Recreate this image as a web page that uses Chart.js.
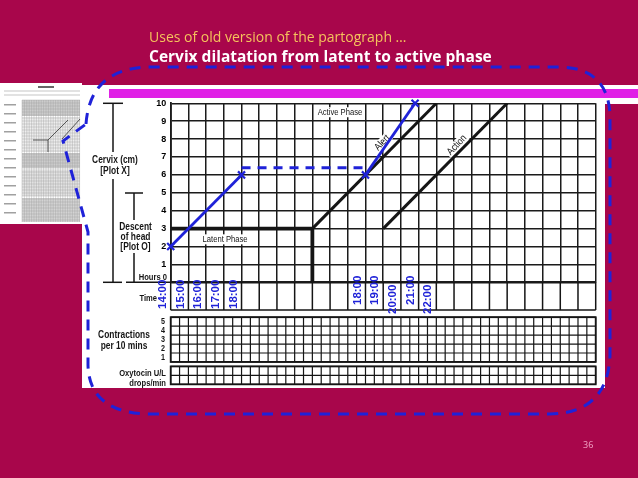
<!DOCTYPE html>
<html lang="en">
<head>
    <meta charset="UTF-8">
    <title>partograph</title>
    <style>
        body {
            margin: 0;
            width: 638px;
            height: 478px;
            overflow: hidden;
            position: relative;
            background: #a8064b;
            font-family: 'Open Sans', sans-serif;
        }
        #canvas {
            position: absolute;
            left: 0;
            top: 0;
        }
        .sub {
            position: absolute;
            left: 149px;
            top: 27px;
            color: #f5c35c;
            font-size: 14px;
            white-space: nowrap;
        }
        .title {
            position: absolute;
            left: 149px;
            top: 45px;
            color: #fff;
            font-size: 15.5px;
            font-weight: bold;
            white-space: nowrap;
        }
        .page {
            position: absolute;
            left: 583px;
            top: 438px;
            color: #f2a4c6;
            font-size: 9px;
        }
    </style>
</head>
<body>
    <canvas id="canvas" width="638" height="478"></canvas>
    <div class="sub">Uses of old version of the partograph …</div>
    <div class="title">Cervix dilatation from latent to active phase</div>
    <div class="page">36</div>

    <script src="https://cdn.jsdelivr.net/npm/chart.js@4.4.1/dist/chart.umd.min.js"></script>
    <script>
    // printed lines of the partograph (hours, cm)
    const latentHours = [0, 8, 8];
    const latentCm = [3, 3, 0];
    const alertHours = [8, 15];
    const alertCm = [3, 10];
    const actionHours = [12, 19];
    const actionCm = [3, 10];

    // blue hand plot
    const plotHours1 = [0, 4];
    const plotCm1 = [2, 6];
    const transferHours = [4, 10.9];
    const transferCm = [6.4, 6.4];
    const plotHours2 = [11, 13.8];
    const plotCm2 = [6, 10];

    // hand written clock times under the hours line
    const timeHours = [0, 1, 2, 3, 4, 11, 12, 13, 14, 15];
    const timeLabels = ['14:00', '15:00', '16:00', '17:00', '18:00', '18:00', '19:00', '20:00', '21:00', '22:00'];
    const contractionTicks = ['5', '4', '3', '2', '1'];

    const blue = '#1f22d8';
    const ink = '#151515';
    const sans = "'Liberation Sans', Arial, sans-serif";

    function pts(xs, ys) {
        return xs.map(function (x, i) { return { x: x, y: ys[i] }; });
    }

    function line(c, x1, y1, x2, y2) {
        c.beginPath();
        c.moveTo(x1, y1);
        c.lineTo(x2, y2);
        c.stroke();
    }

    // condensed look of the printed form: squeeze text horizontally
    function narrow(c, text, x, y, align, font) {
        c.save();
        c.font = font;
        c.textAlign = align;
        c.textBaseline = 'middle';
        c.translate(x, y);
        c.scale(0.8, 1);
        c.fillText(text, 0, 0);
        c.restore();
    }

    function tag(c, text, x, y, angle, size) {
        c.save();
        c.translate(x, y);
        c.rotate(angle);
        c.scale(0.85, 1);
        c.font = size + 'px ' + sans;
        const w = c.measureText(text).width;
        c.fillStyle = '#fff';
        c.fillRect(-w / 2 - 2, -5, w + 4, 10);
        c.fillStyle = ink;
        c.textAlign = 'center';
        c.textBaseline = 'middle';
        c.fillText(text, 0, 0);
        c.restore();
    }

    function gridBlock(c, xs, top, rows, rowH) {
        const left = xs.getPixelForValue(0), right = xs.getPixelForValue(24);
        c.lineWidth = 1.2;
        for (let h = 0; h <= 48; h++) {
            const px = xs.getPixelForValue(h / 2);
            line(c, px, top, px, top + rows * rowH);
        }
        for (let r = 0; r <= rows; r++) {
            line(c, left, top + r * rowH, right, top + r * rowH);
        }
        c.lineWidth = 1.8;
        c.strokeRect(left, top, right - left, rows * rowH);
    }

    function drawThumb(c) {
        c.fillStyle = '#fff';
        c.fillRect(0, 83, 82, 141);
        c.fillStyle = '#666';
        c.fillRect(38, 86, 16, 2);
        c.strokeStyle = '#8a8a8a';
        c.lineWidth = 0.5;
        line(c, 4, 91, 80, 91);
        line(c, 4, 95, 80, 95);
        const bands = [[100, 116, '#cdcdcd'], [117, 152, '#efefef'], [153, 168, '#cdcdcd'], [170, 196, '#e4e4e4'], [198, 222, '#d4d4d4']];
        bands.forEach(function (b) {
            c.fillStyle = b[2];
            c.fillRect(22, b[0], 58, b[1] - b[0]);
        });
        c.strokeStyle = '#9c9c9c';
        c.lineWidth = 0.4;
        for (let x = 22; x <= 80; x += 2.4) line(c, x, 100, x, 222);
        for (let y = 100; y <= 222; y += 3) line(c, 22, y, 80, y);
        c.strokeStyle = '#333';
        c.lineWidth = 0.8;
        line(c, 33, 140, 48, 140);
        line(c, 48, 140, 68, 120);
        line(c, 62, 139, 80, 119);
        line(c, 48, 140, 48, 152);
        c.fillStyle = '#a0a0a0';
        for (let y = 104; y < 220; y += 9) c.fillRect(4, y, 12, 1.5);
    }

    const slide = {
        id: 'slide',
        beforeDraw: function (chart) {
            const c = chart.ctx;
            c.save();
            c.fillStyle = '#fff';
            c.fillRect(82, 85, 523, 303);
            c.fillRect(82, 85, 556, 4);
            c.fillRect(605, 98, 33, 6);
            c.fillStyle = '#e020e6';
            c.fillRect(109, 89, 529, 9);
            drawThumb(c);
            // dashed outline round the form
            c.strokeStyle = blue;
            c.lineWidth = 3;
            c.setLineDash([11, 8]);
            c.beginPath();
            c.moveTo(86, 124);
            c.quadraticCurveTo(90, 68, 150, 67);
            c.lineTo(560, 67);
            c.quadraticCurveTo(608, 68, 610, 115);
            c.lineTo(610, 355);
            c.quadraticCurveTo(608, 413, 550, 414);
            c.lineTo(150, 414);
            c.quadraticCurveTo(89, 413, 88, 365);
            c.lineTo(88, 232);
            c.lineTo(63, 141);
            c.lineTo(86, 124);
            c.stroke();
            c.restore();
        },
        beforeDatasetsDraw: function (chart) {
            const c = chart.ctx, xs = chart.scales.x, ys = chart.scales.y;
            c.save();
            tag(c, 'Active Phase', xs.getPixelForValue(9.56), ys.getPixelForValue(9.5), 0, 9);
            tag(c, 'Latent Phase', xs.getPixelForValue(3.07), ys.getPixelForValue(2.4), 0, 9);
            tag(c, 'Alert', xs.getPixelForValue(11.95), ys.getPixelForValue(7.8), -0.82, 10);
            tag(c, 'Action', xs.getPixelForValue(16.16), ys.getPixelForValue(7.67), -0.82, 10);
            c.restore();
        },
        afterDraw: function (chart) {
            const c = chart.ctx, xs = chart.scales.x, ys = chart.scales.y, a = chart.chartArea;
            const unit = ys.getPixelForValue(0) - ys.getPixelForValue(1);
            const left = xs.getPixelForValue(0), right = xs.getPixelForValue(24);
            c.save();
            c.strokeStyle = ink;
            c.fillStyle = ink;

            // time row
            c.lineWidth = 1.5;
            const timeBottom = a.bottom + 1.55 * unit;
            for (let h = 0; h <= 24; h++) {
                const px = xs.getPixelForValue(h);
                line(c, px, a.bottom, px, timeBottom);
            }
            line(c, left, timeBottom, right, timeBottom);

            // contractions and oxytocin boxes
            const contrTop = a.bottom + 1.95 * unit;
            const oxyTop = a.bottom + 4.7 * unit;
            gridBlock(c, xs, contrTop, 5, unit / 2);
            gridBlock(c, xs, oxyTop, 2, unit / 2);

            // side labels
            const bold10 = 'bold 10.5px ' + sans;
            const bold9 = 'bold 9.5px ' + sans;
            narrow(c, 'Cervix (cm)', 115, 160, 'center', bold10);
            narrow(c, '[Plot X]', 115, 171, 'center', bold10);
            narrow(c, 'Descent', 135.5, 227, 'center', bold10);
            narrow(c, 'of head', 135.5, 237, 'center', bold10);
            narrow(c, '[Plot O]', 135.5, 247, 'center', bold10);
            narrow(c, 'Hours 0', 167, a.bottom - 5, 'right', bold9);
            narrow(c, 'Time', 157, 298, 'right', bold9);
            narrow(c, 'Contractions', 124, 335, 'center', bold10);
            narrow(c, 'per 10 mins', 124, 346, 'center', bold10);
            contractionTicks.forEach(function (t, i) {
                narrow(c, t, 163, contrTop + (i + 0.5) * unit / 2, 'center', 'bold 9px ' + sans);
            });
            narrow(c, 'Oxytocin U/L', 166, 373, 'right', bold9);
            narrow(c, 'drops/min', 166, 383, 'right', bold9);

            // brackets
            c.lineWidth = 1.5;
            line(c, 103, a.top, 123, a.top);
            line(c, 113, a.top, 113, 152);
            line(c, 113, 179, 113, a.bottom);
            line(c, 103, a.bottom, 122, a.bottom);
            line(c, 126, a.bottom, 171, a.bottom);
            line(c, 125, 193, 143, 193);
            line(c, 134, 193, 134, 220);
            line(c, 134, 253, 134, a.bottom);

            // hand written times
            c.fillStyle = blue;
            c.font = 'bold 11.5px ' + sans;
            c.textAlign = 'center';
            c.textBaseline = 'middle';
            timeLabels.forEach(function (t, i) {
                const low = t === '20:00' || t === '22:00';
                const cy = i < 5 ? a.bottom + 12 : a.bottom + (low ? 17 : 8);
                c.save();
                c.translate(xs.getPixelForValue(timeHours[i]) - 8, cy);
                c.rotate(-Math.PI / 2);
                c.fillText(t, 0, 0);
                c.restore();
            });
            c.restore();
        }
    };

    const blueLine = {
        borderColor: blue,
        borderWidth: 2.8,
        pointStyle: 'crossRot',
        pointRadius: 5,
        pointBorderWidth: 2.2,
        pointBorderColor: blue,
        clip: 8
    };

    const ctx = document.getElementById('canvas').getContext('2d');
    const myChart = new Chart(ctx, {
        type: 'line',
        data: {
            datasets: [
                Object.assign({ label: 'Dilatation', data: pts(plotHours1, plotCm1) }, blueLine),
                Object.assign({ label: 'Dilatation (active)', data: pts(plotHours2, plotCm2) }, blueLine),
                {
                    label: 'Transfer',
                    data: pts(transferHours, transferCm),
                    borderColor: blue,
                    borderWidth: 2.8,
                    borderDash: [9, 7],
                    pointRadius: 0
                },
                {
                    label: 'Latent phase',
                    data: pts(latentHours, latentCm),
                    borderColor: ink,
                    borderWidth: 3.8,
                    borderJoinStyle: 'miter',
                    pointRadius: 0
                },
                {
                    label: 'Alert',
                    data: pts(alertHours, alertCm),
                    borderColor: ink,
                    borderWidth: 3,
                    pointRadius: 0
                },
                {
                    label: 'Action',
                    data: pts(actionHours, actionCm),
                    borderColor: ink,
                    borderWidth: 3,
                    pointRadius: 0
                }
            ]
        },
        options: {
            responsive: false,
            animation: false,
            layout: {
                padding: { left: 140.7, right: 42.3, top: 103.3, bottom: 195.7 }
            },
            plugins: {
                legend: { display: false },
                tooltip: { enabled: false }
            },
            scales: {
                x: {
                    type: 'linear',
                    min: 0,
                    max: 24,
                    ticks: { stepSize: 1, display: false },
                    grid: { color: '#1b1b1b', lineWidth: 1.5, drawTicks: false },
                    border: { color: '#1b1b1b', width: 1.8 },
                    afterFit: function (s) { s.height = 0; }
                },
                y: {
                    min: 0,
                    max: 10,
                    ticks: {
                        stepSize: 1,
                        padding: 4.5,
                        color: '#000',
                        font: { family: sans, size: 9, weight: 'bold' },
                        callback: function (v) { return v === 0 ? '' : v; }
                    },
                    grid: { color: '#1b1b1b', lineWidth: 1.5, drawTicks: false },
                    border: { color: '#1b1b1b', width: 1.8 },
                    afterFit: function (s) { s.width = 30; }
                }
            }
        },
        plugins: [slide]
    });
    </script>
</body>
</html>
